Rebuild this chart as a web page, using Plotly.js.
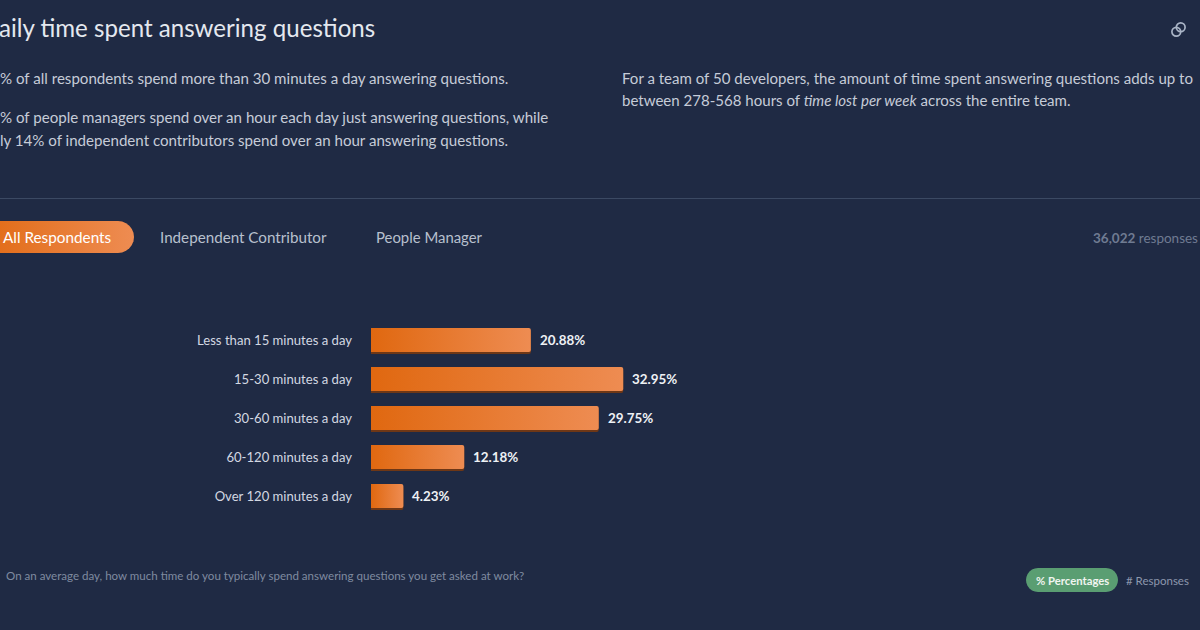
<!DOCTYPE html>
<html><head><meta charset="utf-8">
<script src="https://cdn.plot.ly/plotly-3.0.1.min.js"></script>
<style>html,body{margin:0;padding:0;background:#1f2a44;overflow:hidden}#c{width:1200px;height:630px}</style>
</head><body><div id="c"></div>
<script>
const categories=["Less than 15 minutes a day","15-30 minutes a day","30-60 minutes a day","60-120 minutes a day","Over 120 minutes a day"];
const percentages=[20.88,32.95,29.75,12.18,4.23];
const title="aily time spent answering questions";
const leftNotes=[["% of all respondents spend more than 30 minutes a day answering questions.",78],["% of people managers spend over an hour each day just answering questions, while",117],["ly 14% of independent contributors spend over an hour answering questions.",140]];
const rightNotes=[["For a team of 50 developers, the amount of time spent answering questions adds up to",78],["between 278-568 hours of <i>time lost per week</i> across the entire team.",100.5]];
const W=1200,H=630,F="Lato, 'Noto Sans', sans-serif";
const px=x=>x/W, py=y=>1-y/H;
function txt(t,x,y,size,color,anchor){return {text:t,xref:'paper',yref:'paper',x:px(x),y:py(y),xanchor:anchor||'left',yanchor:'middle',showarrow:false,font:{family:F,size:size,color:color}};}
function pill(x0,x1,y0,y1,fill,name){const r=(y1-y0)/2;let d=`M${px(x0+r)},${py(y0)}L${px(x1-r)},${py(y0)}`;
 const n=12;for(let i=1;i<=n;i++){const a=-Math.PI/2+Math.PI*i/n;d+=`L${px(x1-r+r*Math.cos(a))},${py((y0+y1)/2+r*Math.sin(a))}`;}
 d+=`L${px(x0+r)},${py(y1)}`;for(let i=1;i<=n;i++){const a=Math.PI/2+Math.PI*i/n;d+=`L${px(x0+r+r*Math.cos(a))},${py((y0+y1)/2+r*Math.sin(a))}`;}
 return {type:'path',xref:'paper',yref:'paper',path:d+'Z',fillcolor:fill,line:{width:0},name:name};}
function ring(cx,cy,r){return {type:'circle',xref:'paper',yref:'paper',x0:px(cx-r),x1:px(cx+r),y0:py(cy+r),y1:py(cy-r),line:{color:'#a9b4c6',width:1.7},fillcolor:'rgba(0,0,0,0)'};}
const annotations=[
 txt(title,-3,27.5,24.1,'#e4e8ef'),
 ...leftNotes.map(n=>txt(n[0],-2,n[1],15.1,'#c6ccd8')),
 ...rightNotes.map(n=>txt(n[0],620,n[1],15.05,'#c6ccd8')),
 txt('All Respondents',1,237,15.3,'#ffffff'),
 txt('Independent Contributor',158,237,15.2,'#b8c0ce'),
 txt('People Manager',374,237,14.9,'#b8c0ce'),
 txt('<b>36,022</b> responses',1200,238,13.5,'#6f7b92','right'),
 txt('On an average day, how much time do you typically spend answering questions you get asked at work?',4,575,11.55,'#7f8aa0'),
 txt('<b>% Percentages</b>',1072,580,11.3,'#f0f5f0','center'),
 txt('# Responses',1124,580,11.5,'#8d97ad'),
 ...categories.map((c,i)=>({text:percentages[i].toFixed(2)+'%',xref:'x',yref:'y',x:percentages[i],y:c,xanchor:'left',yanchor:'middle',xshift:7,yshift:0.5,showarrow:false,font:{family:F,size:13.4,color:'#eef1f5',weight:700}}))
];
const shapes=[
 {type:'line',xref:'paper',yref:'paper',x0:0,x1:1,y0:py(198.5),y1:py(198.5),line:{color:'#3b4963',width:1}},
 pill(-30,134,221,253,'#ea8040','tab'),
 pill(1026,1118,568,592,'#5a9e72','toggle'),
 ring(1176.3,31.7,4.4),ring(1180.7,27.3,4.4)
];
const data=[{type:'bar',orientation:'h',x:percentages,y:categories,marker:{color:'#e87a30',line:{width:0}},hoverinfo:'none',cliponaxis:false}];
const layout={width:W,height:H,paper_bgcolor:'#1f2a44',plot_bgcolor:'#1f2a44',margin:{l:0,r:0,t:0,b:0},showlegend:false,bargap:0.385,barcornerradius:2,
 xaxis:{domain:[371/W,1],range:[0,829/7.655],visible:false,fixedrange:true},
 yaxis:{domain:[114.5/H,309.5/H],autorange:'reversed',type:'category',showgrid:false,zeroline:false,showline:false,ticks:'',ticklabelstandoff:18,tickfont:{family:F,size:13.1,color:'#d3d8e2'},fixedrange:true},
 annotations,shapes};
Plotly.newPlot('c',data,layout,{displayModeBar:false,staticPlot:true}).then(gd=>{
 const svg=gd.querySelector('svg.main-svg');const ns='http://www.w3.org/2000/svg';
 const defs=svg.querySelector('defs')||svg.insertBefore(document.createElementNS(ns,'defs'),svg.firstChild);
 const g=document.createElementNS(ns,'linearGradient');g.id='orangeGrad';
 [['0%','#e06810'],['100%','#ee8c52']].forEach(s=>{const st=document.createElementNS(ns,'stop');st.setAttribute('offset',s[0]);st.setAttribute('stop-color',s[1]);g.appendChild(st);});
 defs.appendChild(g);
 gd.querySelectorAll('.bars .point path').forEach(p=>{p.style.fill='url(#orangeGrad)';p.style.filter='drop-shadow(0 2px 0.4px #6e3716)';});
 gd.querySelectorAll('.shapelayer path').forEach(p=>{if(p.style.fill&&p.style.fill.indexOf('234, 128, 64')>=0)p.style.fill='url(#orangeGrad)';});
});
</script></body></html>
